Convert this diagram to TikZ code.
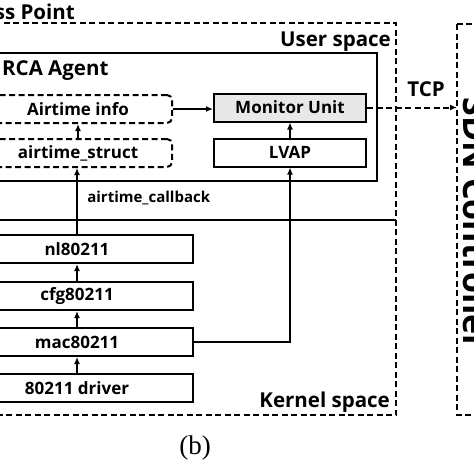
\documentclass[tikz,border=0pt]{standalone}
\usepackage{fontspec}
\setmainfont{Open Sans}
\newfontfamily\capfont{Liberation Serif}
\usetikzlibrary{arrows.meta, positioning}

\tikzset{
  layer/.style={draw, line width=2pt, minimum height=28pt, inner sep=0pt,
    font=\fontsize{17}{17}\selectfont\bfseries},
  softbox/.style={layer, dashed, dash pattern=on 6pt off 3.5pt, rounded corners=5pt},
  arr/.style={-{Latex[length=7pt,width=6pt]}, line width=2pt},
  zone/.style={line width=1.8pt, dash pattern=on 6pt off 3.5pt},
  title/.style={font=\fontsize{20.5}{20.5}\selectfont\bfseries, inner sep=0pt}
}

\begin{document}
\begin{tikzpicture}[x=1pt, y=-1pt]
\useasboundingbox (0,0) rectangle (474,474);

% access point, user space / kernel space
\draw[zone] (-20,23) rectangle (396,415);
\draw[line width=1.6pt] (-20,220) -- (396,220);
\node[title, anchor=base east] (ap) at (75,19) {Access Point};
\node[title, anchor=base east] (us) at (391,46) {User space};
\node[title, anchor=base east] (ks) at (390,407) {Kernel space};

% RCA agent
\draw[line width=2pt] (-20,53) rectangle (377,181);
\node[title, anchor=base west] (rca) at (2,75) {RCA Agent};

\node[softbox, minimum width=188pt] (info) at (78,109) {Airtime info};
\node[softbox, minimum width=188pt] (struct) at (78,153) {airtime\_struct};
\node[layer, fill=gray!18, minimum width=152pt] (mon) at (290,107.5) {Monitor Unit};
\node[layer, minimum width=152pt] (lvap) at (290,152.5) {LVAP};

% kernel stack
\node[layer, minimum width=232pt] (nl) at (77,249) {nl80211};
\node[layer, minimum width=232pt] (cfg) at (77,296) {cfg80211};
\node[layer, minimum width=232pt] (mac) at (77,342) {mac80211};
\node[layer, minimum width=232pt] (drv) at (77,388) {80211 driver};

% controller
\draw[zone] (457,24) rectangle (520,415);
\node[font=\fontsize{34}{34}\selectfont\bfseries, rotate=-90, anchor=base, inner sep=0pt] (ctrl) at (463,224) {SDN Controller};

\draw[arr] (drv) -- (mac);
\draw[arr] (mac) -- (cfg);
\draw[arr] (cfg) -- (nl);
\draw[arr] (nl.north) -- (nl.north |- struct.south)
  node[pos=0.55, right=6pt, font=\fontsize{15}{15}\selectfont\bfseries] (cb) {airtime\_callback};
\draw[arr] (struct) -- (info);
\draw[arr] (info.east) -- (info.east -| mon.west);
\draw[arr] (mac.east) -| (lvap.south);
\draw[arr] (lvap) -- (mon);
\draw[arr, dash pattern=on 6pt off 3.5pt] (mon.east) -- (457,107.5);
\node[title, anchor=base] (tcp) at (426,96) {TCP};

\node[font=\capfont\fontsize{27}{27}\selectfont, anchor=base] (cap) at (195,454) {(b)};
\end{tikzpicture}
\end{document}
